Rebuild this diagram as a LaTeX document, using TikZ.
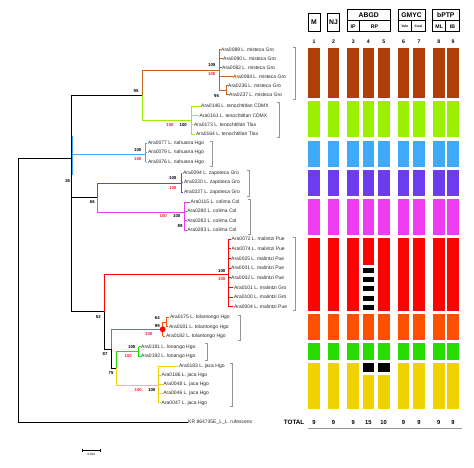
\documentclass[tikz,border=0pt]{standalone}
\usepackage{fontspec}
\setmainfont{Liberation Sans}
\usetikzlibrary{calc}

\definecolor{cbrown}{RGB}{176,62,8}
\definecolor{tbrown}{RGB}{196,96,32}
\definecolor{clime}{RGB}{153,240,0}
\definecolor{cblue}{RGB}{64,170,250}
\definecolor{cpurple}{RGB}{110,60,240}
\definecolor{cmagenta}{RGB}{240,60,240}
\definecolor{cred}{RGB}{250,5,5}
\definecolor{corange}{RGB}{255,80,0}
\definecolor{cgreen}{RGB}{40,220,0}
\definecolor{cyellow}{RGB}{240,210,0}
\definecolor{bsred}{RGB}{235,30,40}
\definecolor{brk}{RGB}{150,150,150}

\begin{document}
\begin{tikzpicture}[x=1pt,y=-1pt,
  tx/.style={font=\fontsize{5}{6}\selectfont,anchor=west,inner sep=0.5pt,text=black!85},
  bs/.style={font=\fontsize{4.3}{5}\selectfont\bfseries,inner sep=0},
  bsr/.style={bs,text=bsred},
  br/.style={line width=0.95pt},
  hbox/.style={draw,line width=0.6pt},
  hd/.style={font=\fontsize{6.8}{8}\selectfont\bfseries,inner sep=0},
  hs/.style={font=\fontsize{5.2}{6}\selectfont\bfseries,inner sep=0},
  brack/.style={draw=brk,line width=0.6pt}]
\useasboundingbox (0,0) rectangle (474,467);

% bars
\foreach \c in {314,333.5,353.2,368.3,383.7,403.5,419,438.8,453}{
  \foreach \ya/\yb/\col in {47.7/97.7/cbrown,100.7/137.3/clime,140.7/167.3/cblue,170/196/cpurple,199.3/235/cmagenta,238.3/310.7/cred,314/340/corange,343.3/360/cgreen,362.7/408.7/cyellow}{
    \fill[\col] (\c-5.8,\ya) rectangle (\c+5.8,\yb);
  }
}
\fill[white] (362.3,265) rectangle (374.3,311);
\foreach \ya in {267.7,276.9,286.2,295.5,304.8}
  \fill[black] (362.9,\ya) rectangle (373.7,\ya+5.2);
\foreach \c in {368.3,383.7}{
  \fill[white] (\c-6,371.7) rectangle (\c+6,374.7);
  \fill[black] (\c-5.8,362.7) rectangle (\c+5.8,371.7);
}

% header
\draw[hbox] (308.2,13.3) rectangle (319.8,31.7);
\node[hd] (hM) at (314,22.5) {M};
\draw[hbox] (327.7,13.3) rectangle (339.3,31.7);
\node[hd] (hNJ) at (333.5,22.5) {NJ};
\draw[hbox] (347.5,9) rectangle (390,31.7);
\draw[hbox] (347.5,20.7) -- (390,20.7) (359,20.7) -- (359,31.7);
\node[hd] (hABGD) at (368.7,14.9) {ABGD};
\node[hs] (hIP) at (353.2,26.3) {IP};
\node[hs] (hRP) at (374.5,26.3) {RP};
\draw[hbox] (398,9) rectangle (425,31.7);
\draw[hbox] (398,20.7) -- (425,20.7) (411.7,20.7) -- (411.7,31.7);
\node[hd] (hGMYC) at (411.5,14.9) {GMYC};
\node[bs,font=\fontsize{3.4}{4}\selectfont\bfseries] (hYule) at (404.8,26.3) {Yule};
\node[bs,font=\fontsize{3.4}{4}\selectfont\bfseries] (hCoal) at (418.4,26.3) {Coal};
\draw[hbox] (432.7,9) rectangle (459,31.7);
\draw[hbox] (432.7,20.7) -- (459,20.7) (445.7,20.7) -- (445.7,31.7);
\node[hd] (hbPTP) at (445.8,14.9) {bPTP};
\node[hs] (hML) at (439.2,26.3) {ML};
\node[hs] (hIB) at (452.4,26.3) {IB};
\foreach \c/\k in {314/1,333.5/2,353.2/3,368.3/4,383.7/5,403.5/6,419/7,438.8/8,453/9}
  \node[hs] (col\k) at (\c,41.7) {\k};

% total
\node[hd,font=\fontsize{6.3}{7}\selectfont\bfseries,anchor=east] (total) at (304.5,422.7) {TOTAL};
\foreach \c/\v [count=\i] in {314/9,333.5/9,353.2/9,368.3/15,383.7/10,403.5/9,419/9,438.8/9,453/9}
  \node[hd,font=\fontsize{5.8}{7}\selectfont\bfseries] (tot\i) at (\c,422.7) {\v};
\draw[brk,line width=0.8pt] (308,428.3) -- (461.7,428.3);

% tree nodes
\coordinate (root) at (18,158);
\coordinate (n26) at (71,158);
\coordinate (n95) at (142.7,95);
\coordinate (nMis) at (219,70);
\coordinate (nMis2) at (226,90);
\coordinate (nTen) at (191,120);
\coordinate (nNah) at (145.7,154.3);
\coordinate (n66) at (97.7,197.3);
\coordinate (nZap) at (181,183);
\coordinate (nCol) at (184.3,212);
\coordinate (n52) at (104.3,311.7);
\coordinate (nMal) at (228.7,274.3);
\coordinate (n87) at (111,349.3);
\coordinate (nTol) at (162.7,329.3);
\coordinate (nTol2) at (166,322);
\coordinate (n75) at (116.7,368.3);
\coordinate (nLon) at (138.7,351.7);
\coordinate (nJac) at (158.3,385.7);

% backbone
\node[tx] (og) at (187.5,422.5) {KR 864735E\_L\_L. rufescens};
\draw[br] (n26) -- (root) |- (og.west);
\draw[br] (n26 |- n95) -- (n26 |- n52);
\draw[br,cblue] (72.4,136) -- (72.4,175);
\draw[br] (n26 |- n95) -- (n95);
\draw[br,tbrown] (n95) |- (nMis);
\draw[br,clime] (n95) |- (nTen);
\draw[br,cblue] ([xshift=1pt]n26 |- nNah) -- (nNah);
\draw[br] (n26 |- n66) -- (n66);
\draw[br,cpurple] (n66) |- (nZap);
\draw[br,cmagenta] (n66) |- (nCol);
\draw[br] (n26 |- n52) -- (n52);
\draw[br,cred] (n52) |- (nMal);
\draw[br] (n52) |- (n87);
\draw[br,corange] (n87) |- (nTol);
\draw[br] (n87) |- (n75);
\draw[br,cgreen] (n75) |- (nLon);
\draw[br,cyellow] (n75) |- (nJac);

% misteca
\foreach \n/\y/\x in {0089/49.3/220.5,0090/58.3/222.5,0082/67.3/221.5,0084/76.3/232.5}{
  \node[tx] (t\n) at (\x,\y) {Ara\n\ L. misteca Gro};
  \draw[br,tbrown] (nMis |- t\n.west) -- (t\n.west);
}
\foreach \n/\y/\x in {0236/85.3/227.5,0237/94.7/228.5}{
  \node[tx] (t\n) at (\x,\y) {Ara\n\ L. misteca Gro};
  \draw[br,tbrown] (nMis2 |- t\n.west) -- (t\n.west);
}
\draw[br,tbrown] (nMis |- t0089.west) -- (nMis |- nMis2) -- (nMis2);
\draw[br,tbrown] (nMis2 |- t0236.west) -- (nMis2 |- t0237.west);

% tenochtitlan
\foreach \n/\y/\x/\st in {0146/106/200.5/CDMX,0161/115.3/199/CDMX,0173/124.7/193.3/Tlax,0164/134/195.3/Tlax}{
  \node[tx] (t\n) at (\x,\y) {Ara\n\ L. tenochtitlan \st};
  \draw[br,clime] (nTen |- t\n.west) -- (t\n.west);
}
\draw[br,clime] (nTen |- t0146.west) -- (nTen |- t0164.west);

% nahuana
\foreach \n/\y in {0077/143.3,0079/152.7,0076/162}{
  \node[tx] (t\n) at (147.3,\y) {Ara\n\ L. nahuana Hgo};
  \draw[br,cblue] (nNah |- t\n.west) -- (t\n.west);
}
\draw[br,cblue] (nNah |- t0077.west) -- (nNah |- t0076.west);

% zapoteca
\foreach \n/\y/\x in {0094/173.3/182.3,0220/182.7/183.3,0227/192.3/183.3}{
  \node[tx] (t\n) at (\x,\y) {Ara\n\ L. zapoteca Gro};
  \draw[br,cpurple] (nZap |- t\n.west) -- (t\n.west);
}
\draw[br,cpurple] (nZap |- t0094.west) -- (nZap |- t0227.west);

% colima
\foreach \n/\y/\x in {0115/202/190,0280/211/186.7,0282/220.3/186.7,0283/230/186.7}{
  \node[tx] (t\n) at (\x,\y) {Ara\n\ L. colima Col};
  \draw[br,cmagenta] (nCol |- t\n.west) -- (t\n.west);
}
\draw[br,cmagenta] (nCol |- t0115.west) -- (nCol |- t0283.west);

% malintzi
\foreach \n/\y/\x/\st in {0072/239/231/Pue,0074/248.7/231/Pue,0025/258.4/230.5/Pue,0001/268/230.5/Pue,0002/277.7/230.5/Pue,0101/287.4/233.3/Gro,0100/297/233.3/Gro,0004/306.7/233.3/Pue}{
  \node[tx] (t\n) at (\x,\y) {Ara\n\ L. malintzi \st};
  \draw[br,cred] (nMal |- t\n.west) -- (t\n.west);
}
\draw[br,cred] (nMal |- t0072.west) -- (nMal |- t0004.west);

% tolantongo
\foreach \n/\y/\x in {0175/317.3/169.3,0181/326.7/168.3}{
  \node[tx] (t\n) at (\x,\y) {Ara\n\ L. tolantongo Hgo};
  \draw[br,corange] (nTol2 |- t\n.west) -- (t\n.west);
}
\node[tx] (t0182) at (165.3,336) {Ara0182 L. tolantongo Hgo};
\draw[br,corange] (nTol |- t0182.west) -- (t0182.west);
\draw[br,corange] (nTol |- nTol2) -- (nTol |- t0182.west);
\draw[br,corange] (nTol |- nTol2) -- (nTol2);
\draw[br,corange] (nTol2 |- t0175.west) -- (nTol2 |- t0181.west);
\fill[cred] (nTol) circle (2.9);

% lonango
\foreach \n/\y in {0191/346.7,0192/356.5}{
  \node[tx] (t\n) at (140.5,\y) {Ara\n\ L. lonango Hgo};
  \draw[br,cgreen] (nLon |- t\n.west) -- (t\n.west);
}
\draw[br,cgreen] (nLon |- t0191.west) -- (nLon |- t0192.west);

% jaca
\foreach \n/\y/\x in {0183/366/178.3,0186/375/161,0048/384.3/162.7,0046/393.3/162.7,0047/402.7/161}{
  \node[tx] (t\n) at (\x,\y) {Ara\n\ L. jaca Hgo};
  \draw[br,cyellow] (nJac |- t\n.west) -- (t\n.west);
}
\draw[br,cyellow] (nJac |- t0183.west) -- (nJac |- t0047.west);

% support values
\foreach \x/\y/\v [count=\i] in {136/91/95,211.7/65.5/100,216.5/96/95,183.3/125/100,137.7/150/100,67.7/180.7/26,92.3/201.7/66,172.7/178.3/100,176.7/215.7/100,180/226/89,98.3/317.3/52,221.7/270.7/100,105/354.3/87,157.3/318.3/64,157.3/326/99,111/373.3/75,131.7/347.3/100,151.7/390/100}
  \node[bs] (bk\i) at (\x,\y) {\v};
\foreach \x/\y [count=\i] in {211.7/74,170/125,137.7/158.7,172.7/187.7,163.3/215.7,221.7/279.3,148.7/334.3,128.3/356,138.3/390}
  \node[bsr] (rd\i) at (\x,\y) {100};

% brackets
\foreach \x/\ya/\yb in {295/47/99.3,279/102/137.5,212.7/141.7/166.7,249/170.7/196,250/199.3/234,295.7/237.3/310.7,240/315/340,207.3/343.3/360,232.7/363.3/406.7}
  \draw[brack] (\x-2.5,\ya) -- (\x,\ya) -- (\x,\yb) -- (\x-2.5,\yb);

% scale
\draw[line width=0.5pt] (82.7,448.5) -- (82.7,451.5) (82.7,450) -- (100,450) (100,448.5) -- (100,451.5);
\node[font=\fontsize{3}{3}\selectfont,inner sep=0] (scl) at (91.3,454.5) {0.020};
\end{tikzpicture}
\end{document}
